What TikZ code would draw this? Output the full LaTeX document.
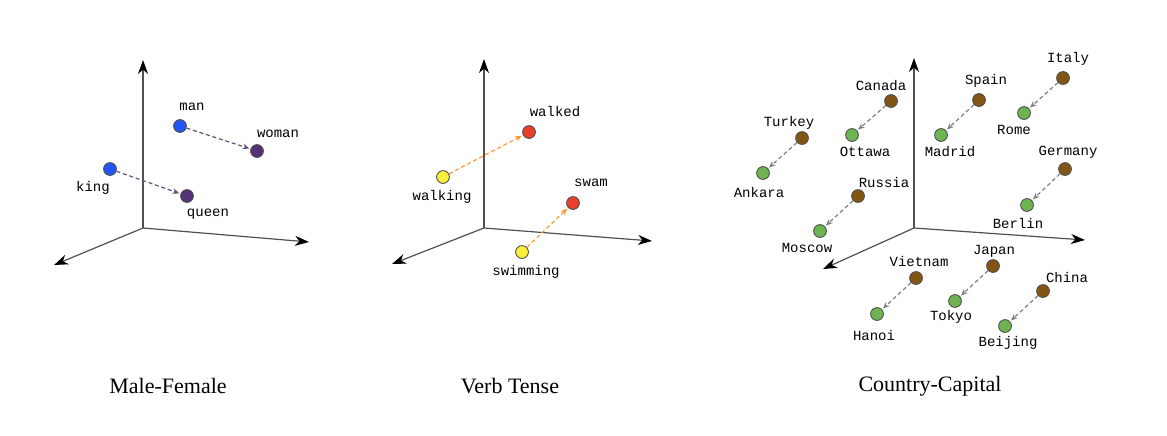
\documentclass[tikz,border=0pt]{standalone}
\usepackage{fontspec}
\setmainfont{Liberation Serif}
\setmonofont{Liberation Mono}
\usetikzlibrary{arrows.meta}

\definecolor{kblue}{RGB}{35,85,245}
\definecolor{kpurple}{RGB}{85,50,120}
\definecolor{kred}{RGB}{232,62,42}
\definecolor{kyellow}{RGB}{250,240,60}
\definecolor{kbrown}{RGB}{130,85,20}
\definecolor{kgreen}{RGB}{110,180,80}
\definecolor{axisgray}{RGB}{80,80,80}

\begin{document}
\begin{tikzpicture}[x={(0.5pt,0)}, y={(0,-0.5pt)},
    axis/.style={draw=axisgray, line width=0.6pt, -{Stealth[length=7pt,width=5pt,inset=2.2pt,color=black]}},
    dot/.style={circle, draw=axisgray, line width=0.45pt, inner sep=0pt, minimum size=6.4pt},
    lbl/.style={font=\fontsize{7}{8}\selectfont\ttfamily, inner sep=0pt},
    paneltitle/.style={font=\fontsize{11}{13}\selectfont},
    vec/.style={dashed, dash pattern=on 2pt off 1.4pt, line width=0.6pt, shorten >=0.6pt, -{Stealth[length=3.4pt,width=2.8pt]}}]
    \useasboundingbox (0,0) rectangle (1167,435);
    % Male-Female
    \coordinate (o1) at (143,228);
    \coordinate (o1z) at (143,60);
    \coordinate (o1x) at (309,242);
    \coordinate (o1y) at (54,265);
    \draw[axis] (o1) -- (o1z);
    \draw[axis] (o1) -- (o1x);
    \draw[axis] (o1) -- (o1y);
    \node[dot, fill=kblue] (man) at (180,126) {};
    \node[dot, fill=kpurple] (woman) at (257,151) {};
    \node[dot, fill=kblue] (king) at (110,169) {};
    \node[dot, fill=kpurple] (queen) at (187,196) {};
    \draw[vec, draw=kpurple!60!gray] (man) -- (woman);
    \draw[vec, draw=kpurple!60!gray] (king) -- (queen);
    \node[lbl] (man-l) at (192,107) {man};
    \node[lbl] (woman-l) at (278,134) {woman};
    \node[lbl] (king-l) at (93,188) {king};
    \node[lbl] (queen-l) at (208,214) {queen};
    \node[paneltitle] (title1) at (168,386) {Male-Female};
    % Verb Tense
    \coordinate (o2) at (484,228);
    \coordinate (o2z) at (484,59);
    \coordinate (o2x) at (652,241);
    \coordinate (o2y) at (392,264);
    \draw[axis] (o2) -- (o2z);
    \draw[axis] (o2) -- (o2x);
    \draw[axis] (o2) -- (o2y);
    \node[dot, fill=kred] (walked) at (529,132) {};
    \node[dot, fill=kred] (swam) at (573,203) {};
    \node[dot, fill=kyellow] (walking) at (443,177) {};
    \node[dot, fill=kyellow] (swimming) at (522,252) {};
    \draw[vec, draw=orange!80!white] (walking) -- (walked);
    \draw[vec, draw=orange!80!white] (swimming) -- (swam);
    \node[lbl] (walked-l) at (555,112) {walked};
    \node[lbl] (swam-l) at (591,183) {swam};
    \node[lbl] (walking-l) at (442,197) {walking};
    \node[lbl] (swimming-l) at (526,272) {swimming};
    \node[paneltitle] (title2) at (510,386) {Verb Tense};
    % Country-Capital
    \coordinate (o3) at (914,228);
    \coordinate (o3z) at (914,58);
    \coordinate (o3x) at (1085,240);
    \coordinate (o3y) at (823,269);
    \draw[axis] (o3) -- (o3z);
    \draw[axis] (o3) -- (o3x);
    \draw[axis] (o3) -- (o3y);
    \node[dot, fill=kbrown] (canada) at (891,101) {};
    \node[dot, fill=kgreen] (ottawa) at (852,135) {};
    \node[dot, fill=kbrown] (turkey) at (802,138) {};
    \node[dot, fill=kgreen] (ankara) at (763,173) {};
    \node[dot, fill=kbrown] (spain) at (979,100) {};
    \node[dot, fill=kgreen] (madrid) at (941,135) {};
    \node[dot, fill=kbrown] (italy) at (1063,78) {};
    \node[dot, fill=kgreen] (rome) at (1024,113) {};
    \node[dot, fill=kbrown] (germany) at (1065,169) {};
    \node[dot, fill=kgreen] (berlin) at (1027,205) {};
    \node[dot, fill=kbrown] (russia) at (858,196) {};
    \node[dot, fill=kgreen] (moscow) at (820,231) {};
    \node[dot, fill=kbrown] (vietnam) at (916,278) {};
    \node[dot, fill=kgreen] (hanoi) at (877,314) {};
    \node[dot, fill=kbrown] (japan) at (993,266) {};
    \node[dot, fill=kgreen] (tokyo) at (955,301) {};
    \node[dot, fill=kbrown] (china) at (1043,291) {};
    \node[dot, fill=kgreen] (beijing) at (1005,326) {};
    \draw[vec, draw=gray] (canada) -- (ottawa);
    \draw[vec, draw=gray] (turkey) -- (ankara);
    \draw[vec, draw=gray] (spain) -- (madrid);
    \draw[vec, draw=gray] (italy) -- (rome);
    \draw[vec, draw=gray] (germany) -- (berlin);
    \draw[vec, draw=gray] (russia) -- (moscow);
    \draw[vec, draw=gray] (vietnam) -- (hanoi);
    \draw[vec, draw=gray] (japan) -- (tokyo);
    \draw[vec, draw=gray] (china) -- (beijing);
    \node[lbl] (canada-l) at (881,86) {Canada};
    \node[lbl] (ottawa-l) at (865,152) {Ottawa};
    \node[lbl] (turkey-l) at (789,123) {Turkey};
    \node[lbl] (ankara-l) at (759,192) {Ankara};
    \node[lbl] (spain-l) at (986,81) {Spain};
    \node[lbl] (madrid-l) at (950,152) {Madrid};
    \node[lbl] (italy-l) at (1068,59) {Italy};
    \node[lbl] (rome-l) at (1014,130) {Rome};
    \node[lbl] (germany-l) at (1068,152) {Germany};
    \node[lbl] (berlin-l) at (1018,223) {Berlin};
    \node[lbl] (russia-l) at (884,182) {Russia};
    \node[lbl] (moscow-l) at (807,248) {Moscow};
    \node[lbl] (vietnam-l) at (919,261) {Vietnam};
    \node[lbl] (hanoi-l) at (874,335) {Hanoi};
    \node[lbl] (japan-l) at (994,251) {Japan};
    \node[lbl] (tokyo-l) at (951,317) {Tokyo};
    \node[lbl] (china-l) at (1067,277) {China};
    \node[lbl] (beijing-l) at (1008,343) {Beijing};
    \node[paneltitle] (title3) at (930,386) {Country-Capital};
\end{tikzpicture}
\end{document}
